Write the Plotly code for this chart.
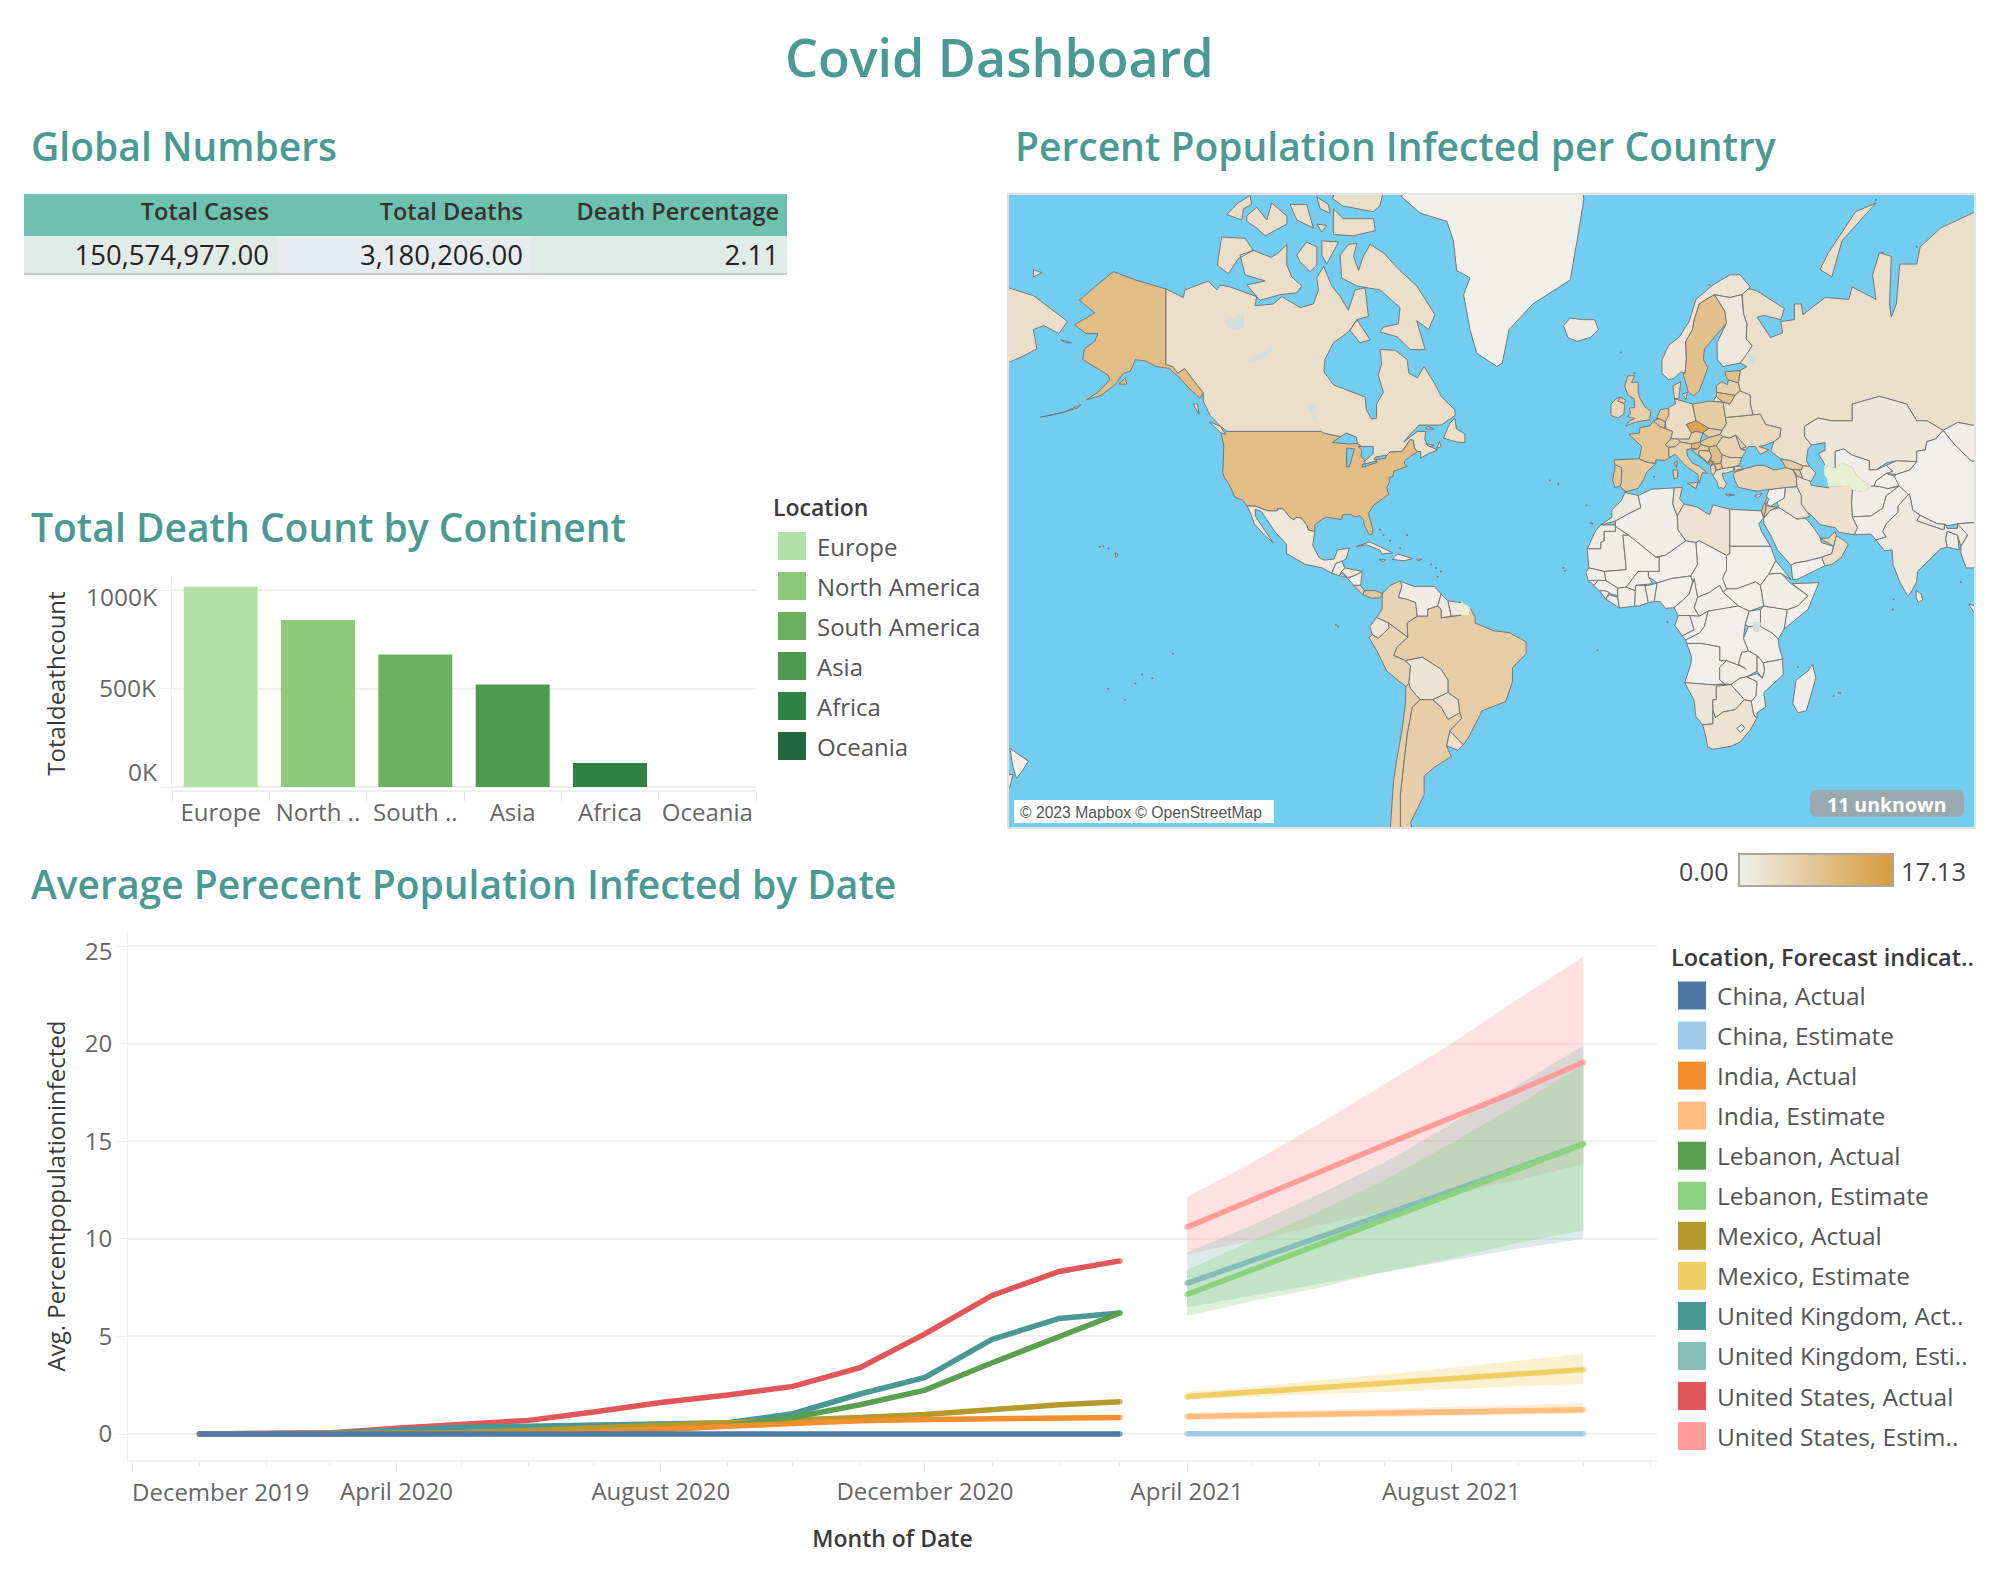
import math
import plotly.graph_objects as go

W, H = 2000, 1592
FONT = "Open Sans"
TEAL = "#4a9a93"
GREY = "#666666"
DARK = "#3a3a3a"

# ---------- table ----------
table_headers = ["Total Cases", "Total Deaths", "Death Percentage"]
table_values = [150574977, 3180206, 2.11]

# ---------- bars ----------
continents = ["Europe", "North America", "South America", "Asia", "Africa", "Oceania"]
continent_ticks = ["Europe", "North ..", "South ..", "Asia", "Africa", "Oceania"]
death_counts = [1016750, 847942, 672415, 520269, 121784, 0]
continent_colors = ["#b3e0a6", "#8aca78", "#6bb160", "#4e9a4f", "#2f8144", "#24693d"]

# ---------- lines ----------
actual_months = ["2020-01-01", "2020-02-01", "2020-03-01", "2020-04-01", "2020-05-01", "2020-06-01", "2020-07-01",
                 "2020-08-01", "2020-09-01", "2020-10-01", "2020-11-01", "2020-12-01", "2021-01-01", "2021-02-01",
                 "2021-03-01"]
estimate_months = ["2021-04-01", "2021-05-01", "2021-06-01", "2021-07-01", "2021-08-01", "2021-09-01", "2021-10-01"]

us_actual = [0.0, 0.0, 0.06, 0.3, 0.5, 0.7, 1.13, 1.62, 2.0, 2.44, 3.4, 5.13, 7.1, 8.33, 8.87]
uk_actual = [0.0, 0.0, 0.05, 0.2, 0.35, 0.4, 0.45, 0.5, 0.58, 1.04, 2.05, 2.9, 4.85, 5.92, 6.2]
lebanon_actual = [0.0, 0.0, 0.0, 0.01, 0.02, 0.04, 0.1, 0.22, 0.42, 0.85, 1.5, 2.25, 3.65, 5.0, 6.2]
mexico_actual = [0.0, 0.0, 0.01, 0.03, 0.07, 0.18, 0.3, 0.43, 0.57, 0.7, 0.85, 1.0, 1.25, 1.5, 1.65]
india_actual = [0.0, 0.0, 0.0, 0.003, 0.014, 0.04, 0.12, 0.26, 0.45, 0.58, 0.68, 0.74, 0.77, 0.79, 0.85]
china_actual = [0.001, 0.006, 0.006, 0.006, 0.006, 0.006, 0.006, 0.006, 0.006, 0.006, 0.006, 0.006, 0.007, 0.007, 0.007]

us_estimate = [10.6, 12.0, 13.4, 14.8, 16.2, 17.6, 19.05]
uk_estimate = [7.72, 8.9, 10.1, 11.25, 12.45, 13.65, 14.87]
lebanon_estimate = [7.15, 8.4, 9.7, 11.0, 12.25, 13.55, 14.85]
mexico_estimate = [1.92, 2.15, 2.4, 2.6, 2.85, 3.05, 3.3]
india_estimate = [0.9, 0.95, 1.0, 1.06, 1.12, 1.18, 1.24]
china_estimate = [0.01, 0.01, 0.01, 0.01, 0.01, 0.01, 0.01]

us_upper = [12.14, 13.9, 15.9, 17.9, 20.0, 22.3, 24.45]
us_lower = [9.2, 9.9, 10.7, 11.4, 12.3, 13.0, 13.84]
uk_upper = [9.3, 10.7, 12.3, 13.9, 15.9, 17.9, 19.9]
uk_lower = [6.5, 7.1, 7.7, 8.3, 8.9, 9.5, 10.0]
lebanon_upper = [8.4, 9.9, 11.4, 13.0, 14.9, 16.9, 18.9]
lebanon_lower = [6.05, 6.8, 7.5, 8.3, 9.0, 9.8, 10.45]
mexico_upper = [2.15, 2.4, 2.75, 3.05, 3.4, 3.75, 4.13]
mexico_lower = [1.76, 1.9, 2.05, 2.15, 2.3, 2.45, 2.55]
india_upper = [1.08, 1.15, 1.22, 1.3, 1.38, 1.48, 1.58]
india_lower = [0.72, 0.78, 0.83, 0.88, 0.93, 0.98, 1.05]

line_legend_labels = ["China, Actual", "China, Estimate", "India, Actual", "India, Estimate", "Lebanon, Actual",
                      "Lebanon, Estimate", "Mexico, Actual", "Mexico, Estimate", "United Kingdom, Act..",
                      "United Kingdom, Esti..", "United States, Actual", "United States, Estim.."]
line_legend_colors = ["#4e79a7", "#a0cbe8", "#f28e2b", "#ffbe7d", "#59a14f", "#8cd17d", "#b6992d", "#f1ce63",
                      "#499894", "#86bcb6", "#e15759", "#ff9d9a"]

# ---------- map: percent infected, and hand-read outlines as (lon, lat) ----------
infected_max = 17.13
infected = {
    "United States": 9.8, "Canada": 3.2, "Mexico": 1.7, "Greenland": 0.1, "Iceland": 1.0, "Russia": 3.2,
    "Kazakhstan": 1.9, "Uzbekistan": 0.3, "Kyrgyzstan": 1.3, "Tajikistan": 0.1, "Afghanistan": 0.15,
    "Pakistan": 0.35, "Iran": 2.8, "Iraq": 2.3, "Syria": 0.1, "Turkey": 5.4, "Saudi Arabia": 1.2, "Yemen": 0.02,
    "Oman": 3.6, "UAE": 5.0, "Jordan": 6.8, "Israel": 9.0, "Lebanon": 7.3, "Cyprus": 0.5, "Georgia": 7.0,
    "Armenia": 6.8, "Azerbaijan": 3.0, "China": 0.01, "Mongolia": 0.3, "India": 1.4, "Nepal": 1.0, "Bangladesh": 0.45,
    "Myanmar": 0.25, "Sri Lanka": 0.45, "Sumatra": 0.6, "Norway": 2.0, "Sweden": 9.3, "Finland": 1.6, "Denmark": 4.3,
    "Great Britain": 6.5, "Northern Ireland": 6.5, "Ireland": 5.0, "France": 8.5, "Spain": 7.5, "Portugal": 8.0, "Belgium": 8.5,
    "Netherlands": 8.5, "Germany": 4.0, "Poland": 7.0, "Czechia": 15.0, "Slovakia": 7.0, "Austria": 6.8,
    "Switzerland": 7.5, "Italy": 6.5, "Hungary": 8.0, "Slovenia": 11.0, "Croatia": 8.0, "Bosnia": 6.0,
    "Serbia": 9.6, "Montenegro": 15.8, "Albania": 4.4, "North Macedonia": 7.0, "Greece": 3.0, "Bulgaria": 5.5,
    "Romania": 5.5, "Moldova": 6.0, "Ukraine": 4.5, "Belarus": 3.8, "Lithuania": 9.0, "Latvia": 6.5,
    "Estonia": 9.2, "Morocco": 1.4, "Western Sahara": 0.9, "Algeria": 0.3, "Tunisia": 2.7, "Libya": 2.6,
    "Egypt": 0.2, "Sudan": 0.08, "South Sudan": 0.1, "Mauritania": 0.4, "Mali": 0.06, "Niger": 0.02, "Chad": 0.03,
    "Senegal": 0.25, "Guinea-Bissau": 0.2, "Guinea": 0.17, "Sierra Leone": 0.05, "Liberia": 0.04, "Ivory Coast": 0.17,
    "Burkina Faso": 0.06, "Ghana": 0.3, "Togo Benin": 0.1, "Nigeria": 0.08, "Cameroon": 0.25, "CAR": 0.14, "Gabon": 1.0,
    "Congo": 0.2, "DR Congo": 0.03, "Angola": 0.07, "Zambia": 0.5, "Namibia": 1.9, "Botswana": 1.9,
    "Zimbabwe": 0.25, "South Africa": 2.7, "Lesotho": 0.5, "Mozambique": 0.22, "Malawi": 0.17, "Tanzania": 0.01,
    "Kenya": 0.28, "Uganda": 0.09, "Ethiopia": 0.22, "Eritrea": 0.1, "Somalia": 0.09, "Madagascar": 0.13,
    "Colombia": 5.6, "Venezuela": 0.6, "Guyana": 1.5, "Suriname": 1.6, "Brazil": 6.9, "Ecuador": 2.0,
    "Peru": 5.5, "Bolivia": 2.5, "Paraguay": 3.4, "Uruguay": 2.8, "Argentina": 6.6, "Chile": 6.4,
    "Guatemala": 1.2, "Honduras": 2.0, "El Salvador": 1.0, "Nicaragua": 0.1, "Costa Rica": 4.6, "Panama": 8.0,
    "Cuba": 0.8, "Hispaniola": 0.9, "New Zealand": 0.06,
}
no_data_outlines = {
    "Turkmenistan": [(53, 42), (56, 41.3), (58, 42.5), (61, 41.5), (62, 40), (65, 38), (66.5, 37.3), (64.5, 36), (61, 36.5),
                     (60, 37.5), (54, 37.3), (53.8, 39), (52.9, 40)],
    "French Guiana": [(-54, 6), (-54, 2.3), (-52, 2.3), (-51.5, 4.5)],
}
outlines = {
    "United States": [
        [(-124.7, 48.4), (-123, 49), (-95.2, 49), (-94.6, 48.7), (-92, 48.3), (-89.6, 48), (-88.4, 48.3), (-84.9, 46.9), (-84.5, 46.5),
         (-83.6, 46.1), (-82.5, 45.3), (-82.1, 43.6), (-82.5, 42.6), (-83.1, 42.1), (-82.7, 41.7), (-79, 42.8), (-79.2, 43.4), (-76.8, 43.6),
         (-75, 44.9), (-71.5, 45), (-70.3, 46.2), (-69.2, 47.4), (-68.2, 47.3), (-67.8, 45.7), (-67, 44.9), (-69, 44), (-70.7, 43),
         (-70.8, 42.3), (-70, 41.8), (-71.4, 41.4), (-74, 40.7), (-74.2, 39.5), (-75.4, 39.3), (-75.1, 38.4), (-76, 37), (-75.5, 35.3),
         (-77.9, 33.9), (-79.9, 32.7), (-81.4, 30.7), (-80.6, 28.4), (-80.1, 26.5), (-80.4, 25.2), (-81.2, 25.2), (-82.7, 27.7), (-82.8, 29),
         (-84, 30.1), (-85.3, 29.7), (-86.5, 30.4), (-89, 30.3), (-89.4, 29.1), (-91.3, 29.4), (-93.8, 29.7), (-95, 29.2), (-97.2, 27.7),
         (-97.2, 25.96), (-99.1, 26.4), (-99.5, 27.5), (-101, 29.4), (-102.7, 29.7), (-103.3, 29), (-104.5, 29.6), (-106.5, 31.8), (-108.2, 31.8),
         (-108.2, 31.3), (-111, 31.3), (-114.8, 32.5), (-117.1, 32.5), (-118.5, 34), (-120.6, 34.6), (-121.9, 36.6), (-122.5, 37.8),
         (-123.8, 39.3), (-124.3, 40.4), (-124.1, 43), (-124, 46.3)],
        [(-141, 69.6), (-145, 70), (-150, 70.5), (-156.5, 71.3), (-160, 70.4), (-163, 69.5), (-166.5, 68.4), (-162, 67), (-164, 66.5),
         (-168, 65.6), (-164.5, 64.5), (-161, 64.5), (-162, 63.5), (-165, 62.5), (-165.5, 61), (-162, 59.9), (-158, 58.7), (-157.5, 58),
         (-161, 56), (-164.5, 54.7), (-160, 55.5), (-156, 57.2), (-153.5, 59), (-151.5, 59.3), (-150, 61), (-147, 60.8), (-144, 60),
         (-140, 59.7), (-137, 58.3), (-134, 56.5), (-131, 55), (-130, 55.9), (-133, 58), (-135.5, 59.7), (-137.5, 59), (-139, 60), (-141, 60.3)],
        [(-154.8, 57.3), (-152.5, 57.3), (-153, 58.3)],
        [(-166, 53.9), (-171, 52.6), (-176, 51.9), (-178, 51.7), (-172, 52.4), (-167, 53.3)],
        [(-156, 20.2), (-155, 19.7), (-155.7, 19)],
        [(-172, 63.7), (-168.8, 63.3), (-170.5, 63.3)],
    ],
    "Canada": [
        [(-141, 69.6), (-135.9, 68.7), (-135.4, 69.5), (-128.5, 70.4), (-126, 69.5), (-125, 70), (-122.1, 69.8), (-114.3, 68.8), (-114.8, 67.8),
         (-109.4, 68), (-106.9, 68.8), (-101.5, 67.6), (-97.6, 68), (-96.1, 69.5), (-96.6, 70.7), (-94.6, 71.8), (-92.2, 69.9), (-89.7, 68.8),
         (-87.3, 67.3), (-85.3, 69.5), (-82.4, 69.7), (-81.4, 66.6), (-84.8, 66.2), (-87.3, 64.7), (-91.7, 63.3), (-94.2, 61), (-94.5, 59.2),
         (-91.7, 57.2), (-82.4, 55.2), (-82, 53), (-80.5, 51.3), (-79, 51.5), (-79, 54), (-77, 56), (-78.5, 58.7), (-77.5, 60.5),
         (-78, 62.4), (-73.5, 62.3), (-70, 61), (-69.5, 59), (-67, 58.3), (-65, 60), (-62, 57.5), (-60, 55.3), (-56, 53), (-55.8, 52),
         (-60, 50.2), (-66.5, 50.2), (-69, 48.5), (-71, 46.9), (-67, 49), (-64.5, 49), (-64.8, 47.5), (-64, 46.2), (-61, 45.3), (-63.5, 44.6),
         (-66, 43.6), (-66, 45), (-67, 44.9), (-67.8, 45.7), (-68.2, 47.3), (-69.2, 47.4), (-70.3, 46.2), (-71.5, 45), (-75, 44.9), (-76.8, 43.6),
         (-79.2, 43.4), (-79, 42.8), (-82.7, 41.7), (-83.1, 42.1), (-82.5, 42.6), (-82.1, 43.6), (-82.5, 45.3), (-83.6, 46.1), (-84.5, 46.5),
         (-84.9, 46.9), (-88.4, 48.3), (-89.6, 48), (-92, 48.3), (-94.6, 48.7), (-95.2, 49), (-123, 49), (-125, 50), (-128, 52), (-130, 54.5),
         (-130, 55.9), (-133, 58), (-135.5, 59.7), (-137.5, 59), (-139, 60), (-141, 60.3)],
        [(-89.7, 72.8), (-87.3, 73.7), (-84.8, 73.8), (-85.8, 72.7), (-84.3, 71.4), (-82.9, 72.7), (-80.9, 73.7), (-77, 73), (-72.1, 71.4),
         (-67.2, 69.9), (-61.8, 66.8), (-63.7, 65), (-67.2, 66.1), (-64.7, 62.4), (-69.1, 62.4), (-73, 64.1), (-78, 64.7), (-77, 65.3),
         (-72.6, 65.7), (-72.1, 67.6), (-78, 69.5), (-84.8, 69.9), (-89.3, 70.7)],
        [(-119.2, 72.8), (-115.3, 73.2), (-110, 72.6), (-107.9, 73), (-105.4, 73.7), (-105.5, 72), (-104, 70.8), (-101, 69.9), (-102.5, 69.2),
         (-107.4, 69), (-113.3, 68.4), (-117.2, 70), (-111.8, 70.4), (-117.7, 71)],
        [(-124.6, 74.3), (-117.7, 74.2), (-115.3, 73.2), (-119.7, 72.5), (-122.6, 71.1), (-125.9, 71.9)],
        [(-92, 77.1), (-89, 76.6), (-80, 76.2), (-78, 76.6), (-76, 78.5), (-65, 82), (-75, 83), (-90, 82), (-88, 79)],
        [(-91.7, 76.4), (-88.8, 75.7), (-79.9, 75.7), (-79.4, 74.8), (-85.8, 74.4), (-91.7, 74.5)],
        [(-102.5, 72.8), (-99.6, 73.9), (-96.6, 73.5), (-96.6, 71.9), (-98.6, 71.3), (-101.5, 72.2)],
        [(-95.1, 74), (-90.2, 73.9), (-93.7, 72), (-95.1, 72.8)],
        [(-123.1, 76), (-119.7, 76.8), (-116.2, 77.3), (-115.8, 76.7), (-118.2, 76.4), (-118.7, 75.6)],
        [(-117.2, 75.9), (-114.3, 76.5), (-111.3, 75.6), (-109.9, 76.8), (-105.4, 75.9), (-105.4, 75.3), (-111.8, 74.4), (-114.3, 75), (-117.2, 75.5)],
        [(-104.5, 76.7), (-99.6, 76.7), (-97.6, 75), (-102.5, 75.6)],
        [(-96.6, 75.3), (-93.7, 75.2), (-95.1, 74.7)],
        [(-96.6, 77.2), (-93.2, 76.7), (-92.7, 76.1), (-95.6, 76.4)],
        [(-86.8, 64.9), (-84.8, 66.2), (-80.9, 63.7), (-83.9, 63.3)],
        [(-59.3, 47.7), (-55.5, 46.9), (-53, 46.8), (-53, 48.5), (-55.5, 49.5), (-56, 51.5), (-57.5, 50.5)],
        [(-128.3, 50.8), (-125, 50), (-123.4, 48.4), (-125, 48.8)],
        [(-133, 54), (-131.7, 54), (-131.3, 52.2)],
        [(-64, 50), (-62, 49.4), (-64.5, 49.5)],
        [(-64.5, 46.6), (-62, 46.2), (-63.5, 46)],
        [(-60.5, 47), (-60, 46), (-61.3, 45.6)],
    ],
    "Mexico": [[(-117.1, 32.5), (-114.8, 32.5), (-111, 31.3), (-108.2, 31.3), (-108.2, 31.8), (-106.5, 31.8), (-104.5, 29.6), (-103.3, 29),
                (-102.7, 29.7), (-101, 29.4), (-99.5, 27.5), (-99.1, 26.4), (-97.2, 25.96), (-97.8, 22.3), (-96, 19), (-94.5, 18.2), (-91.5, 18.5),
                (-90.5, 21), (-87, 21.5), (-88, 18.5), (-89.2, 17.9), (-91, 17.2), (-92.2, 14.5), (-95, 16), (-100, 17), (-105.5, 20), (-105.5, 22.5),
                (-109, 26), (-113, 31.2), (-114.7, 31.7), (-114.7, 30), (-110, 24), (-109.5, 23), (-112, 25), (-115, 28), (-116, 30.5)]],
    "Greenland": [[(-71.6, 77.2), (-66.2, 76.1), (-58.3, 75.5), (-56.4, 74), (-55.4, 71.4), (-51.5, 70.7), (-53.4, 69), (-51.5, 65), (-49.5, 61.9),
                   (-43.6, 60), (-42, 60.5), (-40, 65), (-33, 68), (-22, 70.5), (-20, 74), (-18, 77), (-20, 81), (-30, 83.5), (-45, 82.5), (-60, 82), (-68, 80)]],
    "Iceland": [[(-24, 65.5), (-22, 66.4), (-18, 66.2), (-14.8, 66.2), (-13.7, 65), (-16, 64), (-20, 63.5), (-22.7, 64)]],
    "Russia": [
        [(28.5, 69.8), (33, 69.4), (41, 67.5), (40, 66.2), (35, 66.7), (33, 66.5), (37, 64), (40.5, 64.6), (40, 66), (44, 66.2), (44, 68), (46, 68),
         (46.5, 66.8), (53, 68.7), (60, 68.5), (61, 69.8), (68, 68.5), (67, 71), (69, 73), (72.5, 72.7), (72, 68), (72.5, 66.5), (74, 68), (75, 72),
         (80, 72), (81, 73.5), (87, 75), (100, 76.5), (110, 78), (110, 51), (102, 50.5), (98, 50), (92, 50.7), (87.8, 49.2), (83, 51), (80, 51),
         (77, 54), (71, 55), (69, 55.3), (61, 54), (61, 51), (55, 51), (51, 51.5), (47, 50), (47, 48), (49, 46.3), (48, 45.5), (47.5, 43), (48.5, 41.8),
         (46.5, 41.9), (43, 43), (40, 43.4), (37, 45), (38, 47), (39.7, 47.9), (40, 49.6), (35.5, 50.3), (34, 52.2), (31.8, 52.1), (31, 54), (31, 55.5),
         (28, 56.2), (27.5, 57.5), (28, 59.4), (30, 60), (28, 60.5), (30, 61.8), (31.5, 62.9), (29.8, 63.8), (30, 65.7), (29, 66.9), (28.5, 69)],
        [(-190, 70), (-180, 68.9), (-175, 67.5), (-170, 66), (-172.5, 64.5), (-177, 65.5), (-180, 65), (-179, 62.5), (-183, 61.5), (-190, 60)],
        [(51.5, 71.5), (55, 70.8), (58, 74), (68, 76.8), (62, 76.2), (54, 73)],
        [(20, 54.4), (22.8, 54.4), (21, 55.3)],
        [(-180, 71.5), (-177.5, 71.2), (-180, 70.8)],
    ],
    "Kazakhstan": [[(47, 50), (51, 51.5), (55, 51), (61, 51), (61, 54), (69, 55.3), (71, 55), (77, 54), (80, 51), (83, 51), (87.8, 49.2), (85.5, 47.5),
                    (83, 47), (82.5, 45.3), (80, 45), (80, 42.8), (74, 43), (71, 42.5), (68, 41), (66, 41), (66, 43), (61, 44.2), (58.5, 45.5), (56, 45),
                    (56, 41.3), (53, 42), (52.5, 42.8), (51, 44.5), (53, 45.2), (53, 46.8), (49, 46.3), (47, 48)]],
    "Uzbekistan": [[(56, 45), (58.5, 45.5), (61, 44.2), (66, 43), (66, 41), (68, 41), (71, 42), (73, 40.7), (71, 40.2), (68, 38.5), (67.5, 37.3),
                    (66.5, 37.3), (65, 38), (62, 40), (61, 41.5), (58, 42.5), (56, 41.3)]],
    "Kyrgyzstan": [[(74, 43), (80, 42.8), (78, 41), (74, 40), (71, 40.2), (73, 40.7), (71, 42)]],
    "Tajikistan": [[(68, 38.5), (71, 40.2), (74, 39.5), (75, 37.5), (71.5, 36.7), (69, 37.2), (67.5, 37.3)]],
    "Afghanistan": [[(61, 36.5), (64.5, 36), (66.5, 37.3), (69, 37.2), (71.5, 36.7), (74.8, 37.3), (71, 35), (70, 32), (66.5, 30), (61, 29.8), (60.8, 33.5)]],
    "Pakistan": [[(61, 29.8), (66.5, 30), (70, 32), (71, 35), (74.8, 37.3), (77.8, 35.5), (74.5, 32.5), (74.5, 31), (71, 28), (70, 26), (71, 24.5),
                  (68, 23.7), (66.5, 25.3), (61.6, 25.1), (62.5, 27)]],
    "Iran": [[(44.5, 39.5), (48, 39.5), (49, 37.5), (54, 36.9), (54, 37.3), (60, 37.5), (61, 36.5), (60.8, 33.5), (61, 29.8), (62.5, 27), (61.6, 25.1),
              (57, 25.8), (56, 27), (51.5, 27.8), (48.9, 30.3), (47.7, 31), (46, 33), (46, 35), (44.7, 37.2)]],
    "Iraq": [[(38.8, 33.4), (41, 34.5), (41.3, 37), (44.7, 37.2), (46, 35), (46, 33), (47.7, 31), (48.5, 30), (47, 29.5), (44.7, 29.2), (39.5, 32.1)]],
    "Syria": [[(36, 33), (35.8, 35), (36.5, 36.5), (41.3, 37), (41, 34.5), (38.8, 33.4), (36.8, 32.4)]],
    "Turkey": [[(26, 40), (26.5, 38.5), (27.5, 37), (30.5, 36.5), (33, 36.1), (36, 36.5), (36.5, 36.5), (41.3, 37), (44.7, 37.2), (44.5, 39.5), (43.5, 41.1),
                (41.5, 41.5), (38, 41), (35, 42), (33, 42), (29, 41.2), (27, 41)], [(26.2, 41.7), (28, 41.9), (29, 41.2), (26.5, 40.5)]],
    "Saudi Arabia": [[(34.9, 29.4), (37, 31.5), (39.5, 32.1), (44.7, 29.2), (47, 29.5), (48.5, 28.3), (50, 26.5), (51.5, 24.5), (52, 23), (55.5, 22), (55, 20),
                      (52, 19), (48, 18), (44, 17.3), (43, 16.7), (39, 21), (37, 25), (35, 28)]],
    "Yemen": [[(43, 16.7), (44, 17.3), (48, 18), (52, 19), (53, 16.6), (45, 12.8), (43.5, 12.7)]],
    "Oman": [[(52, 19), (55, 20), (55.5, 22), (56.3, 24.9), (58.7, 23.5), (59.8, 22.5), (57.8, 18.9), (55, 17), (53, 16.6)]],
    "UAE": [[(51.5, 24.2), (55.5, 22), (56.3, 24.9), (56, 26), (54, 24.2)]],
    "Jordan": [[(34.9, 29.4), (35.5, 31.5), (35.6, 32.7), (36.8, 32.4), (39, 32.2), (37, 31.5)]],
    "Israel": [[(34.3, 31.3), (35, 33), (35.6, 33), (35.5, 31.5), (34.9, 29.5)]],
    "Lebanon": [[(35.1, 33.1), (36, 34.6), (36.6, 34.2), (35.8, 33.3)]],
    "Cyprus": [[(32.3, 35), (34.5, 35.6), (33.8, 34.9), (33, 34.6)]],
    "Georgia": [[(40, 43.4), (43, 43), (46.5, 41.9), (46, 41), (43.5, 41.1), (41.5, 41.5)]],
    "Armenia": [[(43.5, 41.1), (45.5, 41), (46.5, 39), (44.8, 39.7)]],
    "Azerbaijan": [[(46, 41), (46.5, 41.9), (48.5, 41.8), (50.3, 40.3), (48.9, 38.4), (46.5, 39), (45.5, 41)]],
    "China": [[(73.5, 39.5), (74, 40), (78, 41), (80, 42.8), (80, 45), (82.5, 45.3), (83, 47), (85.5, 47.5), (87.8, 49.2), (91, 46.5), (96, 43), (110, 42),
               (110, 20), (98, 24), (97, 28.3), (92, 28), (89, 27.5), (88.2, 27.9), (86, 28), (81, 30.2), (78.8, 31.5), (78, 35), (75.5, 36.8), (74.8, 37.3)]],
    "Mongolia": [[(87.8, 49.2), (92, 50.7), (98, 50), (102, 50.5), (110, 50), (110, 42), (96, 43), (91, 46.5)]],
    "India": [[(74.5, 31), (74.5, 32.5), (77.8, 35.5), (78, 35), (78.8, 31.5), (81, 30.2), (80, 28.8), (88, 26.4), (88.2, 27.9), (89, 26.8), (92, 26.8), (92, 28),
               (97, 28.3), (95, 25), (93, 22), (92, 25), (89, 26), (88.5, 24), (89, 21.8), (87, 21.3), (82, 16.5), (80.2, 15), (80, 12), (78, 8.5), (77.3, 8),
               (75, 12), (73, 17), (72.8, 21), (70.5, 20.8), (69, 22.5), (68, 23.7), (71, 24.5), (70, 26), (71, 28)]],
    "Nepal": [[(80, 28.8), (81, 30.2), (86, 28), (88.2, 27.9), (88, 26.4)]],
    "Bangladesh": [[(88.5, 24), (89, 26), (92, 25), (92.5, 21), (89, 21.8)]],
    "Myanmar": [[(92, 28), (97, 28.3), (98, 24), (100, 21), (99, 16), (98, 10), (97, 16), (94.5, 16), (93, 20), (93, 22), (95, 25)]],
    "Sri Lanka": [[(79.8, 9.5), (81.3, 8.5), (81.7, 6.8), (80.5, 6), (79.8, 7.5)]],
    "Sumatra": [[(95.3, 5.5), (97.5, 5), (105, -3), (105, -6), (100, -2)]],
    "Norway": [[(5, 61), (5, 59), (7, 58), (8.5, 58.2), (10.6, 59.2), (11.8, 59), (12.2, 61), (12, 63.5), (14, 65), (14.5, 66.2), (16, 68), (18, 68.5), (20.5, 69),
                (25, 68.7), (28.5, 69), (31, 69.8), (28, 71), (25, 71), (20, 70), (15, 68.5), (13, 66), (10, 64), (7, 63)]],
    "Sweden": [[(11.2, 58.9), (12.8, 56), (14.2, 55.4), (16, 56.2), (18.5, 59.8), (17.2, 61), (17.5, 62.5), (21.2, 64.5), (24, 65.8), (23.5, 67.2), (20.5, 69),
                (18, 68.5), (16, 68), (14.5, 66.2), (14, 65), (12, 63.5), (12.2, 61), (11.8, 59)]],
    "Finland": [[(23, 60), (25.5, 60.3), (28, 60.5), (30, 61.8), (31.5, 62.9), (29.8, 63.8), (30, 65.7), (29, 66.9), (28.5, 69), (25, 68.7), (20.5, 69), (23.5, 67.2),
                 (24, 65.8), (21.2, 63.3), (21.3, 61)]],
    "Denmark": [[(8.2, 57), (10.5, 57.7), (10, 55), (8.7, 54.9)], [(11, 55.7), (12.5, 56), (12, 54.8)]],
    "Great Britain": [[(-5.7, 50), (-3, 50.7), (1.4, 51.2), (1.7, 52.7), (0, 53.5), (-1.5, 55), (-2, 56), (-2, 57.6), (-4, 57.6), (-3, 58.6), (-5, 58.6), (-6, 57), (-5, 55.5),
                       (-3.2, 54.9), (-3, 53.4), (-4.6, 53.3), (-4.2, 52.3), (-5.2, 51.8), (-3, 51.4), (-4.5, 51)]],
    "Northern Ireland": [[(-7.3, 55.2), (-5.5, 54.6), (-6.2, 54.1), (-8, 54.5)]],
    "Ireland": [[(-10, 52), (-8, 51.5), (-6.2, 52.2), (-6, 53.7), (-6.2, 54.1), (-8, 54.5), (-7.3, 55.2), (-8.5, 54.9), (-10, 54)]],
    "France": [[(-1.7, 43.4), (-1, 46), (-4.7, 48.4), (-1.6, 48.7), (-1.5, 49.7), (1.5, 50.1), (2.5, 51), (4.2, 50), (5.8, 49.6), (6.2, 49.5), (8.2, 49), (7.6, 47.6), (6, 46.3), (7, 45.8),
                (7, 44), (7.5, 43.8), (6, 43.1), (3.2, 43.2), (3.2, 42.4), (0.5, 42.7)], [(8.6, 42.5), (9.5, 43), (9.3, 41.5)]],
    "Spain": [[(-9.2, 43.2), (-1.7, 43.4), (0.5, 42.7), (3.2, 42.4), (0.5, 40.5), (-0.3, 39), (-2, 36.8), (-5.5, 36), (-7.4, 37.2), (-7, 38), (-7, 39.6), (-6.8, 41), (-8.2, 42), (-8.8, 42)]],
    "Portugal": [[(-8.8, 42), (-8.2, 42), (-6.8, 41.5), (-7, 39.6), (-7, 38), (-7.4, 37.2), (-8.9, 37), (-9.5, 38.8)]],
    "Belgium": [[(2.5, 51), (4.2, 51.4), (6, 50.8), (5.8, 49.6), (4.2, 50)]],
    "Netherlands": [[(3.4, 51.4), (4.5, 53), (7, 53.3), (7, 52), (6, 50.8), (4.2, 51.4)]],
    "Germany": [[(6, 50.8), (7, 52), (7, 53.5), (9, 54), (8.7, 54.9), (10, 54.7), (14, 54), (14.7, 52), (15, 51), (12.2, 50.3), (13.7, 48.7), (13, 47.5), (10, 47.4), (7.6, 47.6), (8.2, 49), (6.2, 49.5)]],
    "Poland": [[(14, 54), (19, 54.5), (23, 54.3), (23.7, 51.6), (24, 50.5), (22.7, 49.2), (18.8, 49.6), (15, 51), (14.7, 52)]],
    "Czechia": [[(12.2, 50.3), (15, 51), (18.8, 49.6), (17, 48.7), (15, 49), (13.7, 48.7)]],
    "Slovakia": [[(17, 48.7), (18.8, 49.6), (22.7, 49.2), (22.2, 48.4), (18.8, 47.8)]],
    "Austria": [[(9.6, 47.5), (13, 47.5), (13.7, 48.7), (15, 49), (17, 48.7), (16.2, 46.9), (13.7, 46.5), (10.5, 46.9)]],
    "Switzerland": [[(6, 46.3), (7.6, 47.6), (9.6, 47.5), (10.5, 46.9), (9, 46), (7, 45.8)]],
    "Italy": [[(7, 44), (7, 45.8), (9, 46), (10.5, 46.9), (13.7, 46.5), (13.7, 45.6), (12.3, 45.3), (12.5, 44), (14, 42.5), (16, 41.8), (18.5, 40.2), (17, 40.4), (16.5, 39.5), (16, 38),
               (15.7, 38.2), (15.6, 40), (12.3, 41.7), (10.5, 43), (8.8, 44.4), (7.5, 43.8)], [(12.5, 38), (15.6, 38.2), (15, 36.7)], [(8.2, 41), (9.7, 41), (9.5, 39.2), (8.5, 39)]],
    "Hungary": [[(16.2, 46.9), (18.8, 47.8), (22.2, 48.4), (22.9, 48), (21, 46.2), (18.8, 45.9), (16.5, 46.4)]],
    "Slovenia": [[(13.7, 45.6), (13.7, 46.5), (16.2, 46.9), (16.5, 46.4), (15.5, 45.5)]],
    "Croatia": [[(13.7, 45.2), (15.5, 45.5), (16.5, 46.4), (18.8, 45.9), (19, 45), (16, 45.2), (15.8, 44.4), (18.5, 42.5), (15, 44.5)]],
    "Bosnia": [[(16, 45.2), (19, 45), (19.6, 44), (18.5, 42.6), (15.8, 44.4)]],
    "Serbia": [[(18.8, 45.9), (21, 46.2), (22.7, 44.3), (22.4, 42.4), (20.5, 42.3), (19.3, 43), (19.6, 44), (19, 45)]],
    "Montenegro": [[(18.5, 42.5), (19.3, 43), (20.3, 42.8), (19.3, 41.9)]],
    "Albania": [[(19.3, 41.9), (20.5, 42.3), (20.9, 40.5), (20, 39.7), (19.4, 40.5)]],
    "North Macedonia": [[(20.5, 42.3), (22.4, 42.4), (22.9, 41.3), (21, 40.9)]],
    "Greece": [[(20, 39.7), (21, 40.9), (22.9, 41.3), (26.2, 41.7), (26, 40.8), (23.5, 40.2), (22.7, 40.3), (23.2, 38.9), (24, 37.8), (23, 36.6), (22.5, 37), (21.7, 36.8), (21.2, 38.3)],
               [(23.6, 35.5), (26.3, 35.2), (24.5, 35)]],
    "Bulgaria": [[(22.4, 42.4), (22.7, 44.3), (25, 43.7), (28.5, 43.7), (27.7, 42), (26.2, 41.7), (22.9, 41.3)]],
    "Romania": [[(21, 46.2), (22.9, 48), (24.9, 47.7), (26.7, 48.3), (27.5, 47), (28.2, 45.5), (29.7, 45), (28.5, 43.7), (25, 43.7), (22.7, 44.3)]],
    "Moldova": [[(26.7, 48.3), (29.8, 45.9), (28.2, 45.5), (27.5, 47)]],
    "Ukraine": [[(22.2, 48.4), (22.7, 49.2), (24, 50.5), (23.7, 51.6), (31.8, 52.1), (34, 52.2), (35.5, 50.3), (40, 49.6), (39.7, 47.9), (38, 47), (35, 46.2), (33.5, 46), (36.5, 45.3), (34, 44.4),
                 (33, 45.3), (32.5, 46), (30.5, 46), (29.7, 45.3), (28.2, 45.5), (29.8, 45.9), (26.7, 48.3), (24.9, 47.7), (22.9, 48)]],
    "Belarus": [[(23.7, 51.6), (31.8, 52.1), (31, 54), (31, 55.5), (28, 56.2), (26.5, 55.5), (25, 54), (23, 54.3)]],
    "Lithuania": [[(21, 56), (26.5, 55.5), (25, 54), (23, 54.3), (22.8, 54.4), (21, 55.3)]],
    "Latvia": [[(21, 57), (22.5, 57.7), (24.3, 57.2), (24.5, 58), (27.5, 57.5), (28, 56.2), (26.5, 55.5), (21, 56)]],
    "Estonia": [[(23.5, 59.2), (28, 59.4), (27.5, 57.5), (24.5, 58), (24, 58.3)]],
    "Morocco": [[(-5.9, 35.8), (-2, 35.1), (-1.2, 32.1), (-5, 30.5), (-8.7, 28.7), (-13, 27.7), (-9.7, 29.7), (-9.8, 31.5), (-7, 33.8)]],
    "Western Sahara": [[(-13, 27.7), (-8.7, 27.7), (-8.7, 26), (-12, 26), (-12, 23.5), (-13, 23), (-13, 21.3), (-17, 21.3), (-14.5, 26.2)]],
    "Algeria": [[(-2, 35.1), (2, 36.6), (8.6, 36.9), (8.2, 33), (9.5, 30), (9.7, 26.5), (12, 23.5), (6, 19.5), (3.2, 19), (-4.8, 25), (-8.7, 27.3), (-8.7, 28.7), (-5, 30.5), (-1.2, 32.1)]],
    "Tunisia": [[(8.6, 36.9), (11, 37), (10.2, 34.3), (11.5, 33), (9.5, 30), (8.2, 33)]],
    "Libya": [[(9.5, 30), (11.5, 33), (15.2, 32.3), (19, 30.3), (20, 32.8), (25, 31.7), (25, 20), (24, 19.5), (16, 23.5), (15, 23), (12, 23.5), (9.7, 26.5)]],
    "Egypt": [[(25, 31.7), (31, 31.5), (34.2, 31.3), (34.9, 29.5), (33.5, 28), (34.3, 26), (37, 22), (25, 22)]],
    "Sudan": [[(24, 19.5), (25, 20), (25, 22), (37, 22), (38.5, 18), (36.5, 14.3), (34, 11), (32.5, 12), (27, 10), (24, 10), (22.8, 13), (24, 15.5)]],
    "South Sudan": [[(24, 10), (27, 10), (32.5, 12), (34, 11), (35, 5), (30.7, 3.5), (27.5, 5), (23, 9)]],
    "Mauritania": [[(-17, 21.3), (-13, 21.3), (-13, 23), (-12, 23.5), (-12, 26), (-8.7, 26), (-8.7, 27.3), (-4.8, 25), (-6.5, 25), (-5.5, 15.5), (-12, 15), (-16.5, 16)]],
    "Mali": [[(-4.8, 25), (3.2, 19), (4.2, 19), (4.2, 15), (1, 15), (-2, 15), (-5.5, 10.5), (-8, 10.2), (-11.5, 12.4), (-12, 15), (-5.5, 15.5), (-6.5, 25)]],
    "Niger": [[(3.2, 19), (6, 19.5), (12, 23.5), (15, 23), (15.5, 17), (13.5, 13.7), (8, 13), (3.6, 11.7), (1, 13.5), (1, 15), (4.2, 15), (4.2, 19)]],
    "Chad": [[(15, 23), (16, 23.5), (24, 19.5), (24, 15.5), (22.8, 13), (24, 10), (23, 9), (22, 11), (19, 9), (15.5, 7.5), (15, 10), (13.5, 13.7), (15.5, 17)]],
    "Senegal": [[(-16.5, 16), (-12, 15), (-11.5, 12.4), (-16.7, 12.4), (-17.4, 14.7)]],
    "Guinea-Bissau": [[(-16.7, 12.4), (-13.7, 12.5), (-15, 11)]],
    "Guinea": [[(-15, 11), (-13.7, 12.5), (-11.5, 12.4), (-8, 10.2), (-8, 8), (-10, 8.5), (-12, 9.5), (-13.3, 9.3)]],
    "Sierra Leone": [[(-13.3, 9.3), (-12, 9.5), (-10.5, 9), (-11.5, 7)]],
    "Liberia": [[(-11.5, 7), (-10.5, 8.3), (-8, 7.5), (-7.5, 4.4)]],
    "Ivory Coast": [[(-8, 7.5), (-8, 10.2), (-5.5, 10.5), (-2.8, 9.5), (-3, 5), (-7.5, 4.4)]],
    "Burkina Faso": [[(-5.5, 10.5), (-2, 15), (1, 15), (1, 13.5), (2.3, 11.5), (-2.8, 11), (-2.8, 9.5)]],
    "Ghana": [[(-3, 5), (-2.8, 11), (0, 11), (1, 6), (-1.5, 5)]],
    "Togo Benin": [[(0, 11), (1, 11), (3.6, 11.7), (2.7, 6.3), (1, 6)]],
    "Nigeria": [[(2.7, 6.3), (3.6, 11.7), (8, 13), (13.5, 13.7), (14, 12), (13, 8.5), (11, 6.5), (8.5, 4.5), (6, 4.3), (4.5, 6.3)]],
    "Cameroon": [[(8.5, 4.5), (11, 6.5), (13, 8.5), (14, 12), (14.5, 13), (15, 10), (15.5, 7.5), (14.5, 4.5), (16, 2), (9.8, 2.2)]],
    "CAR": [[(14.5, 4.5), (15.5, 7.5), (19, 9), (22, 11), (23, 9), (27.5, 5), (22, 4), (18.6, 3.5), (16, 2)]],
    "Gabon": [[(9.8, 2.2), (13.2, 2.2), (14.5, -2), (11, -3.8), (8.8, -0.7)]],
    "Congo": [[(13.2, 2.2), (16, 2), (18.6, 3.5), (17.5, -1), (16, -3), (12, -5), (11, -3.8), (14.5, -2)]],
    "DR Congo": [[(18.6, 3.5), (22, 4), (27.5, 5), (30.7, 3.5), (29.5, -0.5), (29, -4.5), (30.5, -8.2), (28.5, -8.6), (27.5, -12), (29.8, -13.4), (28, -12.5), (24, -11), (22, -11), (22, -7), (16.5, -6), (12.3, -6), (12, -5), (16, -3), (17.5, -1)]],
    "Angola": [[(12.3, -6), (16.5, -6), (22, -7), (22, -11), (24, -11), (22, -13), (22, -16.5), (23.4, -17.6), (20, -17.9), (14, -17.4), (11.7, -17.3), (13.5, -12), (13.7, -10)]],
    "Zambia": [[(22, -13), (24, -11), (28, -12.5), (29.8, -13.4), (27.5, -12), (28.5, -8.6), (30.5, -8.2), (33, -9.5), (33, -14), (30, -15.6), (28, -16), (25.3, -17.8), (23.4, -17.6), (22, -16.5)]],
    "Namibia": [[(11.7, -17.3), (14, -17.4), (20, -17.9), (25.3, -17.8), (21, -18.3), (21, -22), (20, -22), (20, -28.4), (17, -28.7), (15, -26.5), (14.4, -22)]],
    "Botswana": [[(20, -22), (21, -22), (21, -18.3), (25.3, -17.8), (29.3, -22), (26.5, -24.7), (23, -25.3), (20.7, -26.8), (20, -24.8)]],
    "Zimbabwe": [[(25.3, -17.8), (28, -16), (30, -15.6), (33, -17), (32.7, -21), (31.3, -22.4), (29.3, -22)]],
    "South Africa": [[(17, -28.7), (20, -28.4), (20, -24.8), (20.7, -26.8), (23, -25.3), (26.5, -24.7), (29.3, -22), (31.3, -22.4), (32, -26), (32.9, -27), (31, -30), (28, -33), (25.5, -34), (20, -34.8), (18.4, -34.2), (18, -32)]],
    "Lesotho": [[(27, -29.6), (28.5, -28.6), (29.4, -29.5), (28, -30.6)]],
    "Mozambique": [[(32.9, -27), (32, -26), (31.3, -22.4), (32.7, -21), (33, -17), (30, -15.6), (33, -14.7), (34.5, -16), (35.2, -14), (34.8, -11.6), (40.5, -10.5), (40.7, -15), (35, -20), (35.5, -24), (33, -25.5)]],
    "Malawi": [[(33, -9.5), (34.8, -11.6), (35.2, -14), (34.5, -16), (33, -14)]],
    "Tanzania": [[(29, -4.5), (30.5, -1), (34, -1), (37.6, -3), (39.2, -4.7), (39.5, -7), (40.5, -10.5), (34.8, -11.6), (33, -9.5), (30.5, -8.2)]],
    "Kenya": [[(34, -1), (34, 4), (35, 5), (41.9, 3.9), (41, -1.7), (39.2, -4.7), (37.6, -3)]],
    "Uganda": [[(29.5, -0.5), (30.7, 3.5), (34, 4), (34, -1), (30.5, -1)]],
    "Ethiopia": [[(34, 11), (36.5, 14.3), (40, 14.5), (43, 11.5), (48, 8), (45, 5), (41.9, 3.9), (35, 5)]],
    "Eritrea": [[(36.5, 14.3), (38.5, 18), (43, 12.7), (40, 14.5)]],
    "Somalia": [[(41.9, 3.9), (45, 5), (48, 8), (43.3, 11.5), (51.2, 11.8), (48, 4), (41, -1.7)]],
    "Madagascar": [[(49.3, -12), (50.3, -16), (47.5, -25), (45, -25.5), (43.5, -23), (44.5, -16.5), (48, -14)]],
    "Colombia": [[(-77.3, 8.7), (-75, 11), (-72, 12.3), (-71.5, 11), (-72.5, 7.5), (-70, 7), (-67.5, 6), (-67, 2), (-70, 0), (-69.8, -4.2), (-72, -2.5), (-75.5, 0), (-79, 1.6), (-77.4, 4)]],
    "Venezuela": [[(-72, 12), (-71.5, 11), (-72.5, 7.5), (-70, 7), (-67.5, 6), (-67, 2), (-64, 2), (-64, 4), (-61, 5), (-60, 8.5), (-62, 10.7), (-68, 10.7), (-71.5, 12)]],
    "Guyana": [[(-60, 8.5), (-61, 5), (-60, 4), (-60, 1.5), (-57, 2), (-58, 6.5)]],
    "Suriname": [[(-58, 6.5), (-57, 2), (-54, 2.3), (-54, 6)]],
    "Brazil": [[(-51.5, 4.5), (-52, 2.3), (-54, 2.3), (-57, 2), (-60, 1.5), (-60, 4), (-61, 5), (-64, 4), (-64, 2), (-67, 2), (-70, 0), (-69.8, -4.2), (-73, -7), (-74, -9.5), (-70.5, -11), (-65.5, -10), (-60, -13.5),
                (-58, -16.5), (-58, -20), (-55, -22), (-54.5, -25.5), (-54, -27), (-57.5, -30.2), (-53.5, -33.7), (-52, -32), (-48.5, -26), (-48, -25), (-41, -22.5), (-39, -17), (-39, -13), (-35, -9), (-35, -5.5),
                (-40, -2.8), (-44.5, -2.3), (-50, 0), (-50, 1.8)]],
    "Ecuador": [[(-79, 1.6), (-75.5, 0), (-75.3, -1.5), (-78.5, -4.5), (-80.3, -3.4), (-81, -1)]],
    "Peru": [[(-81.2, -4.3), (-80.3, -3.4), (-78.5, -4.5), (-75.3, -1.5), (-75.5, 0), (-72, -2.5), (-69.8, -4.2), (-73, -7), (-74, -9.5), (-70.5, -11), (-69, -12.5), (-69.5, -17.5), (-70.4, -18.4), (-76, -14), (-79, -8)]],
    "Bolivia": [[(-69, -12.5), (-70.5, -11), (-65.5, -10), (-60, -13.5), (-58, -16.5), (-58, -20), (-62.5, -22), (-66.2, -22), (-69, -19), (-69.5, -17.5)]],
    "Paraguay": [[(-58, -20), (-55, -22), (-54.5, -25.5), (-58, -27.3), (-60, -24), (-62.5, -22)]],
    "Uruguay": [[(-57.5, -30.2), (-53.5, -33.7), (-55, -35), (-58.4, -34)]],
    "Argentina": [[(-66.2, -22), (-62.5, -22), (-60, -24), (-58, -27.3), (-54.5, -25.5), (-54, -27), (-57.5, -30.2), (-58.4, -34), (-57, -36.5), (-62, -39), (-65, -41), (-65, -45), (-69, -50.5), (-68, -53), (-65, -55), (-72, -52), (-72, -45), (-71, -38), (-70, -31), (-68.5, -24)]],
    "Chile": [[(-70.4, -18.4), (-69.5, -17.5), (-69, -19), (-66.2, -22), (-68.5, -24), (-70, -31), (-71, -38), (-72, -45), (-72, -52), (-67, -55), (-75, -52), (-74, -42), (-73, -37), (-71.5, -30), (-70.5, -23)]],
    "Guatemala": [[(-92.2, 14.5), (-91, 17.2), (-89.2, 17.9), (-88.3, 16), (-89.3, 15), (-90, 13.8)]],
    "Honduras": [[(-89.3, 15), (-88.3, 16), (-83.2, 15), (-85, 14), (-87.5, 13.2)]],
    "El Salvador": [[(-90, 13.8), (-89.3, 14.4), (-87.7, 13.2)]],
    "Nicaragua": [[(-87.5, 13), (-85, 14), (-83.2, 15), (-83.7, 11), (-85.7, 11)]],
    "Costa Rica": [[(-85.7, 11), (-83.7, 11), (-82.6, 9.5), (-83, 8.3)]],
    "Panama": [[(-83, 8.3), (-82.6, 9.5), (-79.5, 9.5), (-77.3, 8.7), (-78, 7.3), (-80.5, 7.3)]],
    "Cuba": [[(-85, 21.9), (-81, 23.2), (-74.2, 20.2), (-77.5, 19.9), (-78, 21), (-82, 22.4)]],
    "Hispaniola": [[(-74.4, 18.4), (-72.8, 19.9), (-68.3, 18.6), (-71, 18)], [(-78.3, 18.4), (-76.3, 18.2), (-77.2, 17.8)], [(-67.2, 18.5), (-65.7, 18.4), (-67, 18)]],
    "New Zealand": [[(-187, -34.5), (-181.5, -37.6), (-183, -39.5), (-185, -41.5), (-186, -39)], [(-190, -41), (-186, -40.6), (-187, -43.5), (-190, -46)]],
}
lakes_water = {
    "Superior": [(-92, 46.8), (-88, 48.7), (-85, 47.9), (-84.6, 46.6), (-87, 46.5)],
    "Michigan": [(-87.9, 41.7), (-87, 41.7), (-85.5, 45.5), (-87.8, 45.7)],
    "Huron": [(-84.5, 46), (-80, 46), (-80, 44.5), (-82.4, 43), (-83.6, 44), (-83.3, 45.2)],
    "Erie": [(-83.3, 41.6), (-79, 42.6), (-79, 43), (-83, 42.2)],
    "Ontario": [(-79.7, 43.3), (-76.3, 43.5), (-76.3, 44.2), (-79.3, 43.8)],
}
lakes_pale = {
    "Great Bear": [(-124, 66), (-118, 67), (-118, 65.2), (-122, 65)],
    "Great Slave": [(-117, 61), (-109, 62.8), (-111, 61.5), (-115, 60.7)],
    "Winnipeg": [(-99, 53.7), (-97, 54), (-96.3, 50.5), (-97.2, 50.5)],
    "Ladoga": [(30.5, 61.6), (32.8, 61.3), (32, 60), (30.6, 60)],
    "Victoria": [(31.7, 0.3), (34.2, 0.2), (33.5, -2.7), (31.8, -2.5)],
}
island_lon = [-157.9, -159.5, -160.5, -16, -15.5, -25.5, -28, -24, -23.5, -91, -90.3, -150, -148, -145, -139, -153, -158, -17.2, -60, -61.5, -61,
              -72, -75, -77, -78, -63, -70, 57.5, 55.5, 93, 73, 73.2, 57, 45, 6.6, -5.7, -14, -3, -7, 2.7, 19, 72, 58, 60, 68, 70, 80]
island_lat = [21.4, 22, 21.9, 28.2, 28, 37.8, 38.6, 16, 15.2, -0.5, -1, -17.5, -15, -16, -9, -22, -19, 32.7, 15, 16, 13.5,
              21.5, 23.5, 25, 26.5, 17, 25, -20.2, -21, 12, 4, 7, -20, -12.8, 0.3, 36, -8, 59, 62, 39.5, 70, 78, 81, 80, 77, 73, 73.5]

PALE_WATER = "#d3dedd"
OCEAN = "#72cdf1"
LAND_LINE = "#757575"
NO_DATA = "#e9f0d2"
LOW = (241, 239, 235)
HIGH = (214, 154, 60)
LABEL = "#555555"


def px(x):
    return x / W


def py(y):
    return 1 - y / H


def merc(lat):
    return math.degrees(math.log(math.tan(math.pi / 4 + math.radians(lat) / 2)))


def scale_color(v):
    t = min(max(v / infected_max, 0), 1)
    r, g, b = [round(a + (c - a) * t) for a, c in zip(LOW, HIGH)]
    return f"rgb({r},{g},{b})"


def ring_xy(rings):
    xs, ys = [], []
    for ring in rings:
        xs += [p[0] for p in ring] + [ring[0][0], None]
        ys += [merc(p[1]) for p in ring] + [merc(ring[0][1]), None]
    return xs, ys


fig = go.Figure()

annotations = []
shapes = []


def note(text, x, y, size, color=GREY, anchor="left", weight=400, family=FONT):
    annotations.append(dict(text=text, x=px(x), y=py(y), xref="paper", yref="paper", showarrow=False,
                            xanchor=anchor, yanchor="middle", align=anchor,
                            font=dict(size=size, color=color, family=family, weight=weight)))


def rect(x0, y0, x1, y1, fill, line=None, lw=0, layer="above"):
    shapes.append(dict(type="rect", xref="paper", yref="paper", x0=px(x0), x1=px(x1), y0=py(y0), y1=py(y1),
                       fillcolor=fill, line=dict(color=line or fill, width=lw), layer=layer))


# titles
note("Covid Dashboard", 999, 56, 52, TEAL, "center", 600)
note("Global Numbers", 29, 145, 39, TEAL, "left", 600)
note("Percent Population Infected per Country", 1013, 145, 39, TEAL, "left", 600)
note("Total Death Count by Continent", 29, 526, 39, TEAL, "left", 600)
note("Average Perecent Population Infected by Date", 29, 883, 39, TEAL, "left", 600)

# table
fig.add_trace(go.Table(
    domain=dict(x=[px(24), px(787)], y=[py(273), py(194)]),
    columnwidth=[253, 254, 256],
    header=dict(values=table_headers, align="right", height=42, fill_color="#6fc1af",
                line=dict(width=0, color="#6fc1af"),
                font=dict(family=FONT, size=23.5, color="#333333", weight=600)),
    cells=dict(values=[[v] for v in table_values], format=[",.2f", ",.2f", ".2f"], align="right", height=37,
               fill_color=[["#e0ece8"], ["#e7ecf0"], ["#e0ece8"]], line=dict(width=0, color="#e0ece8"),
               font=dict(family=FONT, size=27.5, color="#222222")),
))
rect(24, 273, 787, 275, "#c8c8c8")

# bars
fig.add_trace(go.Bar(x=continents, y=death_counts, marker=dict(color=continent_colors, line=dict(width=0)), width=0.76,
                     xaxis="x", yaxis="y", showlegend=False))
note("1000K", 159, 596, 24.5, GREY, "right")
note("0K", 159, 771, 24.5, GREY, "right")
note("Location", 770.5, 507, 23, DARK, "left", 600)
for i, (name, color) in enumerate(zip(continents, continent_colors)):
    cy = 546 + 40 * i
    rect(778, cy - 14, 806, cy + 14, color)
    note(name, 814.5, cy, 24, LABEL)

# map
rect(1008, 194, 1975, 828, OCEAN, "#e2e2e2", 2, "below")
for name, rings in outlines.items():
    xs, ys = ring_xy(rings)
    fig.add_trace(go.Scatter(x=xs, y=ys, name=name, mode="lines", fill="toself", fillcolor=scale_color(infected[name]),
                             line=dict(color=LAND_LINE, width=1), xaxis="x3", yaxis="y3", showlegend=False,
                             hoverinfo="name"))
for name, ring in no_data_outlines.items():
    xs, ys = ring_xy([ring])
    fig.add_trace(go.Scatter(x=xs, y=ys, name=name, mode="lines", fill="toself", fillcolor=NO_DATA,
                             line=dict(color=NO_DATA, width=1), xaxis="x3", yaxis="y3", showlegend=False,
                             hoverinfo="name"))
for name, ring in lakes_water.items():
    xs, ys = ring_xy([ring])
    fig.add_trace(go.Scatter(x=xs, y=ys, name=name, mode="lines", fill="toself", fillcolor=OCEAN,
                             line=dict(color=LAND_LINE, width=1), xaxis="x3", yaxis="y3", showlegend=False,
                             hoverinfo="skip"))
for name, ring in lakes_pale.items():
    xs, ys = ring_xy([ring])
    fig.add_trace(go.Scatter(x=xs, y=ys, name=name, mode="lines", fill="toself", fillcolor=PALE_WATER,
                             line=dict(color=PALE_WATER, width=0), xaxis="x3", yaxis="y3", showlegend=False,
                             hoverinfo="skip"))
fig.add_trace(go.Scatter(x=island_lon, y=[merc(a) for a in island_lat], mode="markers", xaxis="x3", yaxis="y3",
                         marker=dict(size=2, color=LAND_LINE), showlegend=False, hoverinfo="skip"))
# colour legend drives from the same scale
fig.add_trace(go.Scatter(x=[-500], y=[0], mode="markers", xaxis="x3", yaxis="y3", showlegend=False, hoverinfo="skip",
                         marker=dict(color=[0], cmin=0, cmax=infected_max, size=1,
                                     colorscale=[[0, "rgb(241,239,235)"], [1, "rgb(214,154,60)"]],
                                     showscale=True,
                                     colorbar=dict(orientation="h", x=px(1739), xanchor="left", y=py(854), yanchor="top",
                                                   lenmode="pixels", len=154, thicknessmode="pixels", thickness=32,
                                                   xpad=0, ypad=0, outlinecolor="#a8a89c", outlinewidth=2,
                                                   showticklabels=False, ticks="", tickvals=[], borderwidth=0))))
note("0.00", 1730, 871, 25, "#444444", "right")
note("17.13", 1899, 871, 25.5, "#444444", "left")
rect(1014, 800, 1274, 823, "#ffffff")
note("© 2023 Mapbox © OpenStreetMap", 1018, 812, 15.7, "#555555", "left", 400, "Liberation Sans")
bx0, by0, bx1, by1, br = px(1810), py(790), px(1964), py(817), 7
rx, ry = br / W, br / H
shapes.append(dict(type="path", xref="paper", yref="paper", fillcolor="#98a9b2", line=dict(width=0), layer="above",
                   path=(f"M {bx0 + rx} {by0} L {bx1 - rx} {by0} Q {bx1} {by0} {bx1} {by0 - ry} "
                         f"L {bx1} {by1 + ry} Q {bx1} {by1} {bx1 - rx} {by1} L {bx0 + rx} {by1} "
                         f"Q {bx0} {by1} {bx0} {by1 + ry} L {bx0} {by0 - ry} Q {bx0} {by0} {bx0 + rx} {by0} Z")))
note("11 unknown", 1887, 804, 19.5, "#ffffff", "center", 700)


# lines
def band(months, upper, lower, color_rgb):
    fig.add_trace(go.Scatter(x=months + months[::-1], y=upper + lower[::-1], mode="lines", fill="toself",
                             fillcolor=f"rgba({color_rgb},0.3)", line=dict(width=0), xaxis="x2", yaxis="y2",
                             showlegend=False, hoverinfo="skip"))


def series(months, values, color, name):
    sizes = [5.5] + [0] * (len(values) - 2) + [5.5]
    fig.add_trace(go.Scatter(x=months, y=values, mode="lines+markers", name=name, line=dict(color=color, width=5.5),
                             marker=dict(size=sizes, color=color, line=dict(width=0)), xaxis="x2", yaxis="y2",
                             showlegend=False))


band(estimate_months, us_upper, us_lower, "255,157,154")
band(estimate_months, uk_upper, uk_lower, "134,188,182")
band(estimate_months, lebanon_upper, lebanon_lower, "140,209,125")
band(estimate_months, mexico_upper, mexico_lower, "241,206,99")
band(estimate_months, india_upper, india_lower, "255,190,125")

series(actual_months, us_actual, "#e15759", "United States, Actual")
series(actual_months, uk_actual, "#499894", "United Kingdom, Actual")
series(actual_months, mexico_actual, "#b6992d", "Mexico, Actual")
series(actual_months, lebanon_actual, "#59a14f", "Lebanon, Actual")
series(actual_months, india_actual, "#f28e2b", "India, Actual")
series(actual_months, china_actual, "#4e79a7", "China, Actual")
series(estimate_months, us_estimate, "#ff9d9a", "United States, Estimate")
series(estimate_months, uk_estimate, "#86bcb6", "United Kingdom, Estimate")
series(estimate_months, mexico_estimate, "#f1ce63", "Mexico, Estimate")
series(estimate_months, lebanon_estimate, "#8cd17d", "Lebanon, Estimate")
series(estimate_months, india_estimate, "#ffbe7d", "India, Estimate")
series(estimate_months, china_estimate, "#a0cbe8", "China, Estimate")

shapes.append(dict(type="line", xref="paper", yref="y2", x0=px(128), x1=px(1657), y0=0, y1=0, layer="below",
                   line=dict(color="#b5b5b5", width=1.2, dash="dot")))
note("December 2019", 130, 1491, 24, GREY)
annotations.append(dict(text="25", xref="paper", yref="y2", x=px(114), y=25, yshift=-4, showarrow=False, xanchor="right",
                        yanchor="middle", font=dict(size=24, color=GREY, family=FONT)))

note("Location, Forecast indicat..", 1668.5, 957, 23.5, DARK, "left", 600)
for i, (name, color) in enumerate(zip(line_legend_labels, line_legend_colors)):
    cy = 995.5 + 40.05 * i
    rect(1678, cy - 14, 1706, cy + 14, color)
    note(name, 1714.5, cy, 24.5, LABEL)

AXIS_LINE = "#eeeeee"
fig.update_layout(
    width=W, height=H, margin=dict(l=0, r=0, t=0, b=0, autoexpand=False), paper_bgcolor="white",
    plot_bgcolor="rgba(0,0,0,0)",
    font=dict(family=FONT, color=GREY), showlegend=False, annotations=annotations, shapes=shapes, bargap=0.24,
    xaxis=dict(domain=[px(172), px(756)], anchor="y", type="category", categoryorder="array", categoryarray=continents,
               range=[-0.5, 5.5], tickmode="array", tickvals=continents, ticktext=continent_ticks, tickson="boundaries",
               tickangle=0, ticks="outside", ticklen=9, tickcolor="#e6e6e6", showgrid=False, showline=True,
               linecolor=AXIS_LINE, linewidth=2, zeroline=False, tickfont=dict(size=24, color=GREY, family=FONT)),
    yaxis=dict(domain=[py(790), py(577)], anchor="x", range=[-15000, 1066000], tickmode="array",
               tickvals=[0, 500000, 1000000], ticktext=["", "500K", ""], ticks="outside", ticklen=10, tickcolor="#eeeeee",
               gridcolor="#f0f0f0", gridwidth=2, showline=True, linecolor=AXIS_LINE, zeroline=False,
               tickfont=dict(size=24.5, color=GREY, family=FONT),
               title=dict(text="Totaldeathcount", standoff=26, font=dict(size=24, color=DARK, family=FONT))),
    xaxis2=dict(domain=[px(128), px(1657)], anchor="y2", type="date", range=["2019-11-29", "2021-11-04"], tickmode="array",
                tickvals=["2019-12-01", "2020-04-01", "2020-08-01", "2020-12-01", "2021-04-01", "2021-08-01"],
                ticktext=["", "April 2020", "August 2020", "December 2020", "April 2021", "August 2021"],
                tickangle=0, ticks="outside", ticklen=9, tickcolor="#e6e6e6", showgrid=False, showline=True,
                linecolor=AXIS_LINE, linewidth=2, zeroline=False, tickfont=dict(size=24, color=GREY, family=FONT),
                minor=dict(dtick="M1", ticks="outside", ticklen=4, tickcolor="#e6e6e6", showgrid=False),
                title=dict(text="Month of Date", standoff=25, font=dict(size=23, color=DARK, family=FONT, weight=600))),
    yaxis2=dict(domain=[py(1460), py(932)], anchor="x2", range=[-1.33, 25.72], tickmode="array",
                tickvals=[0, 5, 10, 15, 20, 25], ticktext=["0", "5", "10", "15", "20", ""], ticks="outside", ticklen=10,
                tickcolor="#eeeeee", gridcolor="#f0f0f0", gridwidth=2, showline=True, linecolor=AXIS_LINE, zeroline=False,
                tickfont=dict(size=24, color=GREY, family=FONT),
                title=dict(text="Avg. Percentpopulationinfected", standoff=12, font=dict(size=24, color=DARK, family=FONT))),
    xaxis3=dict(domain=[px(1009), px(1974)], anchor="y3", range=[-187.2, 96.85], visible=False),
    yaxis3=dict(domain=[py(827), py(195)], anchor="x3", range=[-60, 125.9], visible=False),
)

fig.write_html("out.html", config=dict(displayModeBar=False),
               post_script="document.body.style.margin='0';document.documentElement.style.overflow='hidden';")
